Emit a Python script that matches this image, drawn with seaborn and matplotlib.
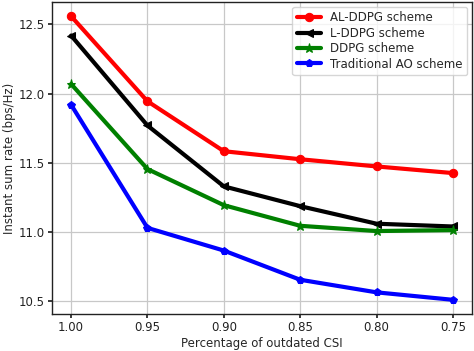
import matplotlib
matplotlib.use("Agg")
import matplotlib.pyplot as plt
import seaborn as sns
import pandas as pd

x_vals = [1.00, 0.95, 0.90, 0.85, 0.80, 0.75]
al_ddpg = [12.56, 11.945, 11.584, 11.526, 11.474, 11.426]
l_ddpg = [12.42, 11.77, 11.33, 11.187, 11.06, 11.04]
ddpg = [12.07, 11.455, 11.194, 11.045, 11.007, 11.014]
trad_ao = [11.92, 11.03, 10.866, 10.655, 10.564, 10.51]

series_names = ["AL-DDPG scheme", "L-DDPG scheme", "DDPG scheme", "Traditional AO scheme"]
series_vals = [al_ddpg, l_ddpg, ddpg, trad_ao]
colors = ["red", "black", "green", "blue"]
markers = ["o", "<", "*", "p"]
xtick_labels = ["1.00", "0.95", "0.90", "0.85", "0.80", "0.75"]
yticks = [10.5, 11.0, 11.5, 12.0, 12.5]

sns.set_theme(style="whitegrid", rc={
    "axes.edgecolor": "#222222",
    "axes.linewidth": 1.0,
    "grid.color": "#c8c8c8",
    "grid.linewidth": 0.9,
    "xtick.bottom": True,
    "ytick.left": True,
    "xtick.major.size": 3,
    "ytick.major.size": 3,
    "xtick.color": "#222222",
    "ytick.color": "#222222",
})
plt.rcParams["font.family"] = ["DejaVu Sans"]

fig, ax = plt.subplots(figsize=(4.74, 3.51), dpi=100)
fig.subplots_adjust(left=52/474, right=472/474, top=1-2/351, bottom=1-314/351)

for name, vals, c, m in zip(series_names, series_vals, colors, markers):
    df = pd.DataFrame({"x": x_vals, "y": vals})
    sns.lineplot(data=df, x="x", y="y", ax=ax, color=c, marker=m, linewidth=3.0,
                 markersize=6 if m != "*" else 6.5, markeredgecolor=c, label=name)

ax.invert_xaxis()
ax.set_xticks(x_vals)
ax.set_xticklabels(xtick_labels)
ax.set_yticks(yticks)
ax.tick_params(labelsize=8.5, pad=2)
ax.set_xlabel("Percentage of outdated CSI", fontsize=8.5, labelpad=2)
ax.set_ylabel("Instant sum rate (bps/Hz)", fontsize=8.5, labelpad=2)
ax.legend(loc="upper right", fontsize=8.5, frameon=True, framealpha=0.8,
          edgecolor="#cccccc", borderaxespad=0.4, handlelength=2.0, labelspacing=0.2)

fig.savefig("out.png", dpi=100)
